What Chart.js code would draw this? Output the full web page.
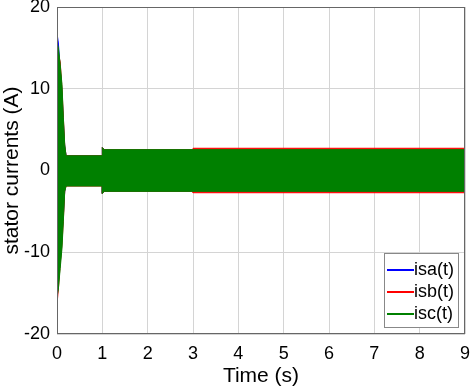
<!DOCTYPE html>
<html>
<head>
<meta charset="utf-8">
<script src="https://cdn.jsdelivr.net/npm/chart.js@4.4.1/dist/chart.umd.min.js"></script>
<style>
html,body{margin:0;padding:0;background:#fff;}
#wrap{width:474px;height:389px;position:relative;}
</style>
</head>
<body>
<div id="wrap"><canvas id="c" width="474" height="389"></canvas></div>
<script>
// Envelope of the (very dense) oscillating stator currents
const timeS      = [0,     0.03,  0.07,  0.11,  0.14,  0.17,  0.2,   1.0,   1.0,   1.04,  3.0,   3.0,   9.0];
const isaUpper   = [16.8,  15.6,  12.5,  9.5,   6.0,   3.0,   1.8,   1.8,   2.8,   2.55,  2.55,  2.55,  2.55];
const isaLower   = [-14.5, -13.0, -10.0, -8.0,  -5.5,  -2.5,  -1.8,  -1.8,  -2.8,  -2.55, -2.55, -2.55, -2.55];
const isbUpper   = [12.0,  14.2,  13.3,  10.0,  6.5,   3.0,   1.8,   1.8,   2.8,   2.55,  2.55,  2.72,  2.72];
const isbLower   = [-16.4, -14.5, -11.5, -9.0,  -6.0,  -2.5,  -1.9,  -1.9,  -2.8,  -2.55, -2.55, -2.72, -2.72];
const iscUpper   = [15.7,  15.0,  13.0,  10.5,  6.5,   3.2,   1.8,   1.8,   2.8,   2.55,  2.55,  2.55,  2.55];
const iscLower   = [-15.5, -14.5, -12.0, -9.5,  -6.2,  -2.6,  -1.9,  -1.9,  -2.8,  -2.55, -2.55, -2.55, -2.55];

const seriesNames = ['isa(t)', 'isb(t)', 'isc(t)'];
const xTicks = [0, 1, 2, 3, 4, 5, 6, 7, 8, 9];
const yTicks = [-20, -10, 0, 10, 20];
const xTitle = 'Time (s)';
const yTitle = 'stator currents (A)';

const colors = ['#0000ff', '#ff0000', '#008000'];
const FONT = '"Liberation Sans", Arial, Helvetica, sans-serif';

function pts(arr) { return timeS.map((t, i) => ({x: t, y: arr[i]})); }
function band(upper, lower, color, order) {
  return [
    {label: 'u', data: pts(upper), borderColor: color, backgroundColor: color, borderWidth: 1,
     pointRadius: 0, fill: '+1', order: order, tension: 0},
    {label: 'l', data: pts(lower), borderColor: color, backgroundColor: color, borderWidth: 1,
     pointRadius: 0, fill: false, order: order, tension: 0}
  ];
}

const datasets = [
  ...band(iscUpper, iscLower, colors[2], 0),
  ...band(isbUpper, isbLower, colors[1], 1),
  ...band(isaUpper, isaLower, colors[0], 2)
];

const legendPlugin = {
  id: 'boxLegend',
  afterDraw(chart) {
    const ctx = chart.ctx;
    const x0 = 384, y0 = 253, w = 74, h = 74;
    ctx.save();
    ctx.fillStyle = '#fff';
    ctx.fillRect(x0, y0, w, h);
    ctx.strokeStyle = '#888';
    ctx.lineWidth = 1;
    ctx.strokeRect(x0 + 0.5, y0 + 0.5, w, h);
    ctx.font = '18px ' + FONT;
    ctx.textBaseline = 'middle';
    ctx.fillStyle = '#000';
    seriesNames.forEach((name, i) => {
      const yy = y0 + 17 + i * 22;
      ctx.strokeStyle = colors[i];
      ctx.lineWidth = 2;
      ctx.beginPath();
      ctx.moveTo(x0 + 3, yy);
      ctx.lineTo(x0 + 30, yy);
      ctx.stroke();
      ctx.fillText(name, x0 + 30, yy);
    });
    ctx.restore();
  }
};

const borderPlugin = {
  id: 'frame',
  afterDatasetsDraw(chart) {
    const a = chart.chartArea, ctx = chart.ctx;
    ctx.save();
    ctx.strokeStyle = '#666';
    ctx.lineWidth = 1;
    ctx.strokeRect(Math.round(a.left) + 0.5, Math.round(a.top) + 0.5,
                   Math.round(a.right - a.left) - 1, Math.round(a.bottom - a.top) - 1);
    ctx.restore();
  }
};

new Chart(document.getElementById('c'), {
  type: 'line',
  data: {datasets},
  plugins: [borderPlugin, legendPlugin],
  options: {
    responsive: false,
    animation: false,
    events: [],
    layout: {padding: {top: 7, right: 9, left: 0, bottom: 0}},
    plugins: {legend: {display: false}, tooltip: {enabled: false}},
    scales: {
      x: {
        type: 'linear', min: 0, max: 9,
        afterBuildTicks: s => { s.ticks = xTicks.map(v => ({value: v})); },
        afterFit: s => { s.height = 55; s.paddingLeft = 0; s.paddingRight = 0; },
        grid: {color: '#d4d4d4', lineWidth: 1, drawTicks: false},
        border: {display: false},
        ticks: {color: '#000', font: {family: FONT, size: 18}, padding: 9, maxRotation: 0},
        title: {display: true, text: xTitle, color: '#000', font: {family: FONT, size: 21}, padding: {top: 2, bottom: 0}}
      },
      y: {
        type: 'linear', min: -20, max: 20,
        afterBuildTicks: s => { s.ticks = yTicks.map(v => ({value: v})); },
        afterFit: s => { s.width = 57; s.paddingTop = 0; s.paddingBottom = 0; },
        grid: {color: '#d4d4d4', lineWidth: 1, drawTicks: false},
        border: {display: false},
        ticks: {color: '#000', font: {family: FONT, size: 18}, padding: 7},
        title: {display: true, text: yTitle, color: '#000', font: {family: FONT, size: 21}, padding: {top: 0, bottom: 0}}
      }
    }
  }
});
</script>
</body>
</html>
